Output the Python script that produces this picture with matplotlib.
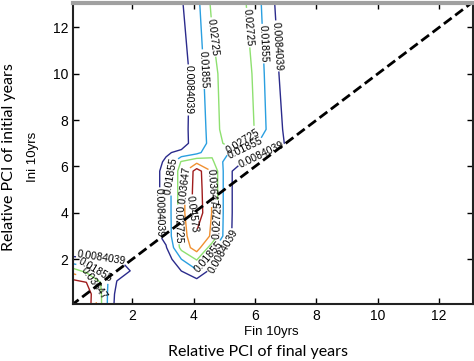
import matplotlib
matplotlib.use("Agg")
import matplotlib.pyplot as plt
import numpy as np

# Grid nodes (relative PCI of final years = x, initial years = y)
fin_nodes = [0.07, 0.5, 1.0, 1.5, 2.0, 2.5, 3.1, 3.6, 4.1, 4.6, 5.1, 5.6, 6.1, 6.6, 7.1, 7.6, 9.0, 13.1]
ini_nodes = [0.07, 0.5, 1.0, 1.5, 2.0, 2.5, 3.0, 4.0, 5.0, 5.8, 6.2, 6.6, 7.0, 7.6, 10.0, 13.05]

# Estimated density (x 1e-3), one row per ini node
density_milli = [
    [55, 54, 27.3, 4, 1, 0.3, 0.2, 0.2, 0.2, 0.2, 0.2, 0.1, 0.1, 0.1, 0.1, 0.1, 0.1, 0.1],
    [56, 55, 27, 5, 1.5, 0.3, 0.3, 0.5, 0.5, 0.4, 0.3, 0.1, 0.1, 0.1, 0.1, 0.1, 0.1, 0.1],
    [50, 46, 26, 8, 2, 0.3, 0.5, 2.5, 4, 1.5, 0.5, 0.2, 0.1, 0.1, 0.1, 0.1, 0.1, 0.1],
    [32, 24, 17, 11, 8, 0.5, 1, 8.5, 17.5, 5, 1, 0.3, 0.1, 0.1, 0.1, 0.1, 0.1, 0.1],
    [10, 9.6, 9.2, 8.8, 6.5, 0.8, 2, 18.5, 28, 12, 2, 0.3, 0.1, 0.1, 0.1, 0.1, 0.1, 0.1],
    [3, 2.5, 2, 1.5, 1, 1, 7.5, 30, 41, 22, 7.5, 0.5, 0.2, 0.1, 0.1, 0.1, 0.1, 0.1],
    [1, 1, 0.8, 0.6, 0.5, 1.5, 11.5, 32, 44, 35, 11.5, 0.5, 0.2, 0.1, 0.1, 0.1, 0.1, 0.1],
    [0.5, 0.5, 0.4, 0.3, 0.5, 1.5, 12, 32, 52, 36, 12, 0.5, 0.2, 0.1, 0.1, 0.1, 0.1, 0.1],
    [0.3, 0.3, 0.3, 0.3, 0.4, 1.5, 12, 32, 51, 36, 12, 0.5, 0.2, 0.1, 0.1, 0.1, 0.1, 0.1],
    [0.2, 0.2, 0.2, 0.2, 0.3, 1.5, 12, 32, 50, 36, 12, 0.5, 0.3, 0.1, 0.1, 0.1, 0.1, 0.1],
    [0.2, 0.2, 0.2, 0.2, 0.3, 1.5, 10, 28, 34, 29, 14, 8.5, 4, 1.5, 0.5, 0.2, 0.1, 0.1],
    [0.2, 0.2, 0.2, 0.2, 0.3, 1, 7, 11, 16, 25, 20, 14, 11, 7.5, 2, 0.5, 0.1, 0.1],
    [0.2, 0.2, 0.2, 0.2, 0.2, 0.5, 1.5, 3, 14.7, 20.7, 30, 26.6, 18.5, 12, 6.9, 1, 0.1, 0.1],
    [0.2, 0.2, 0.2, 0.2, 0.2, 0.3, 1, 3, 15.3, 20.7, 34, 34, 24.9, 12.7, 5.5, 1, 0.1, 0.1],
    [0.2, 0.2, 0.2, 0.2, 0.2, 0.3, 0.8, 3, 13.8, 24.1, 32.4, 31.5, 24.4, 9.8, 5.9, 1, 0.1, 0.1],
    [0.2, 0.2, 0.2, 0.2, 0.2, 0.2, 1, 7.5, 16, 29, 31, 29, 21, 9, 1.5, 0.3, 0.1, 0.1],
]

levels_milli = [8.4039, 18.55, 27.25, 36.47, 45.73]
level_labels = ["0.0084039", "0.01855", "0.02725", "0.03647", "0.04573"]
level_colors = ["#2b2b8c", "#2a9fe0", "#8ee070", "#f09030", "#a01c1c"]

# approximate spots where the contour labels sit
label_spots = [
    (3.85, 9.3), (4.35, 10.2), (4.75, 11.6), (5.9, 12.0), (6.3, 11.3), (6.75, 11.2),
    (5.6, 7.1), (5.7, 6.75), (6.2, 6.5),
    (2.9, 4.0), (3.26, 5.6), (3.47, 3.5), (3.7, 5.2), (4.1, 4.0), (4.55, 5.1), (4.78, 3.7),
    (4.5, 2.1), (4.9, 2.4),
    (1.0, 2.05), (0.8, 1.55), (0.8, 1.0),
]

x_ticks = [2, 4, 6, 8, 10, 12]
y_ticks = [2, 4, 6, 8, 10, 12]
diag_ref = [0.0, 13.1]

plt.rcParams["font.family"] = ["Liberation Sans", "DejaVu Sans"]

fig = plt.figure(figsize=(4.74, 3.61), dpi=100)
ax = fig.add_axes([73 / 474, 1 - 304 / 361, 400 / 474, 301 / 361])

X, Y = np.meshgrid(fin_nodes, ini_nodes)
Z = np.array(density_milli)
cs = ax.contour(X, Y, Z, levels=levels_milli, colors=level_colors, linewidths=1.0)
fmt = {lv: lab for lv, lab in zip(levels_milli, level_labels)}
ax.clabel(cs, fmt=fmt, fontsize=7.5, colors="black", inline=True, inline_spacing=1,
          manual=label_spots)

ax.plot(diag_ref, diag_ref, color="black", linestyle=(0, (3.5, 1.6)), linewidth=2.0)

ax.set_xlim(0.07, 13.1)
ax.set_ylim(0.07, 13.05)
ax.set_xticks(x_ticks)
ax.set_yticks(y_ticks)
ax.tick_params(direction="in", top=True, right=True, length=4, labelsize=10, width=1)
for side in ["left", "bottom", "right"]:
    ax.spines[side].set_linewidth(1.5)
    ax.spines[side].set_color("#222222")
ax.spines["top"].set_linewidth(3)
ax.spines["top"].set_color("#a0a0a0")

ax.set_xlabel("Fin 10yrs", fontsize=9.5)
ax.xaxis.set_label_coords(0.495, -0.072)
ax.set_ylabel("Ini 10yrs", fontsize=9.5)
ax.yaxis.set_label_coords(-0.085, 0.49)

fig.text(258 / 474, 1 - 352 / 361, "Relative PCI of final years", ha="center", va="center",
         fontsize=11.5, family=["Lato", "DejaVu Sans"])
fig.text(9 / 474, 1 - 157 / 361, "Relative PCI of initial years", ha="center", va="center",
         rotation=90, fontsize=11.5, family=["Lato", "DejaVu Sans"])

fig.savefig("out.png", dpi=100)
